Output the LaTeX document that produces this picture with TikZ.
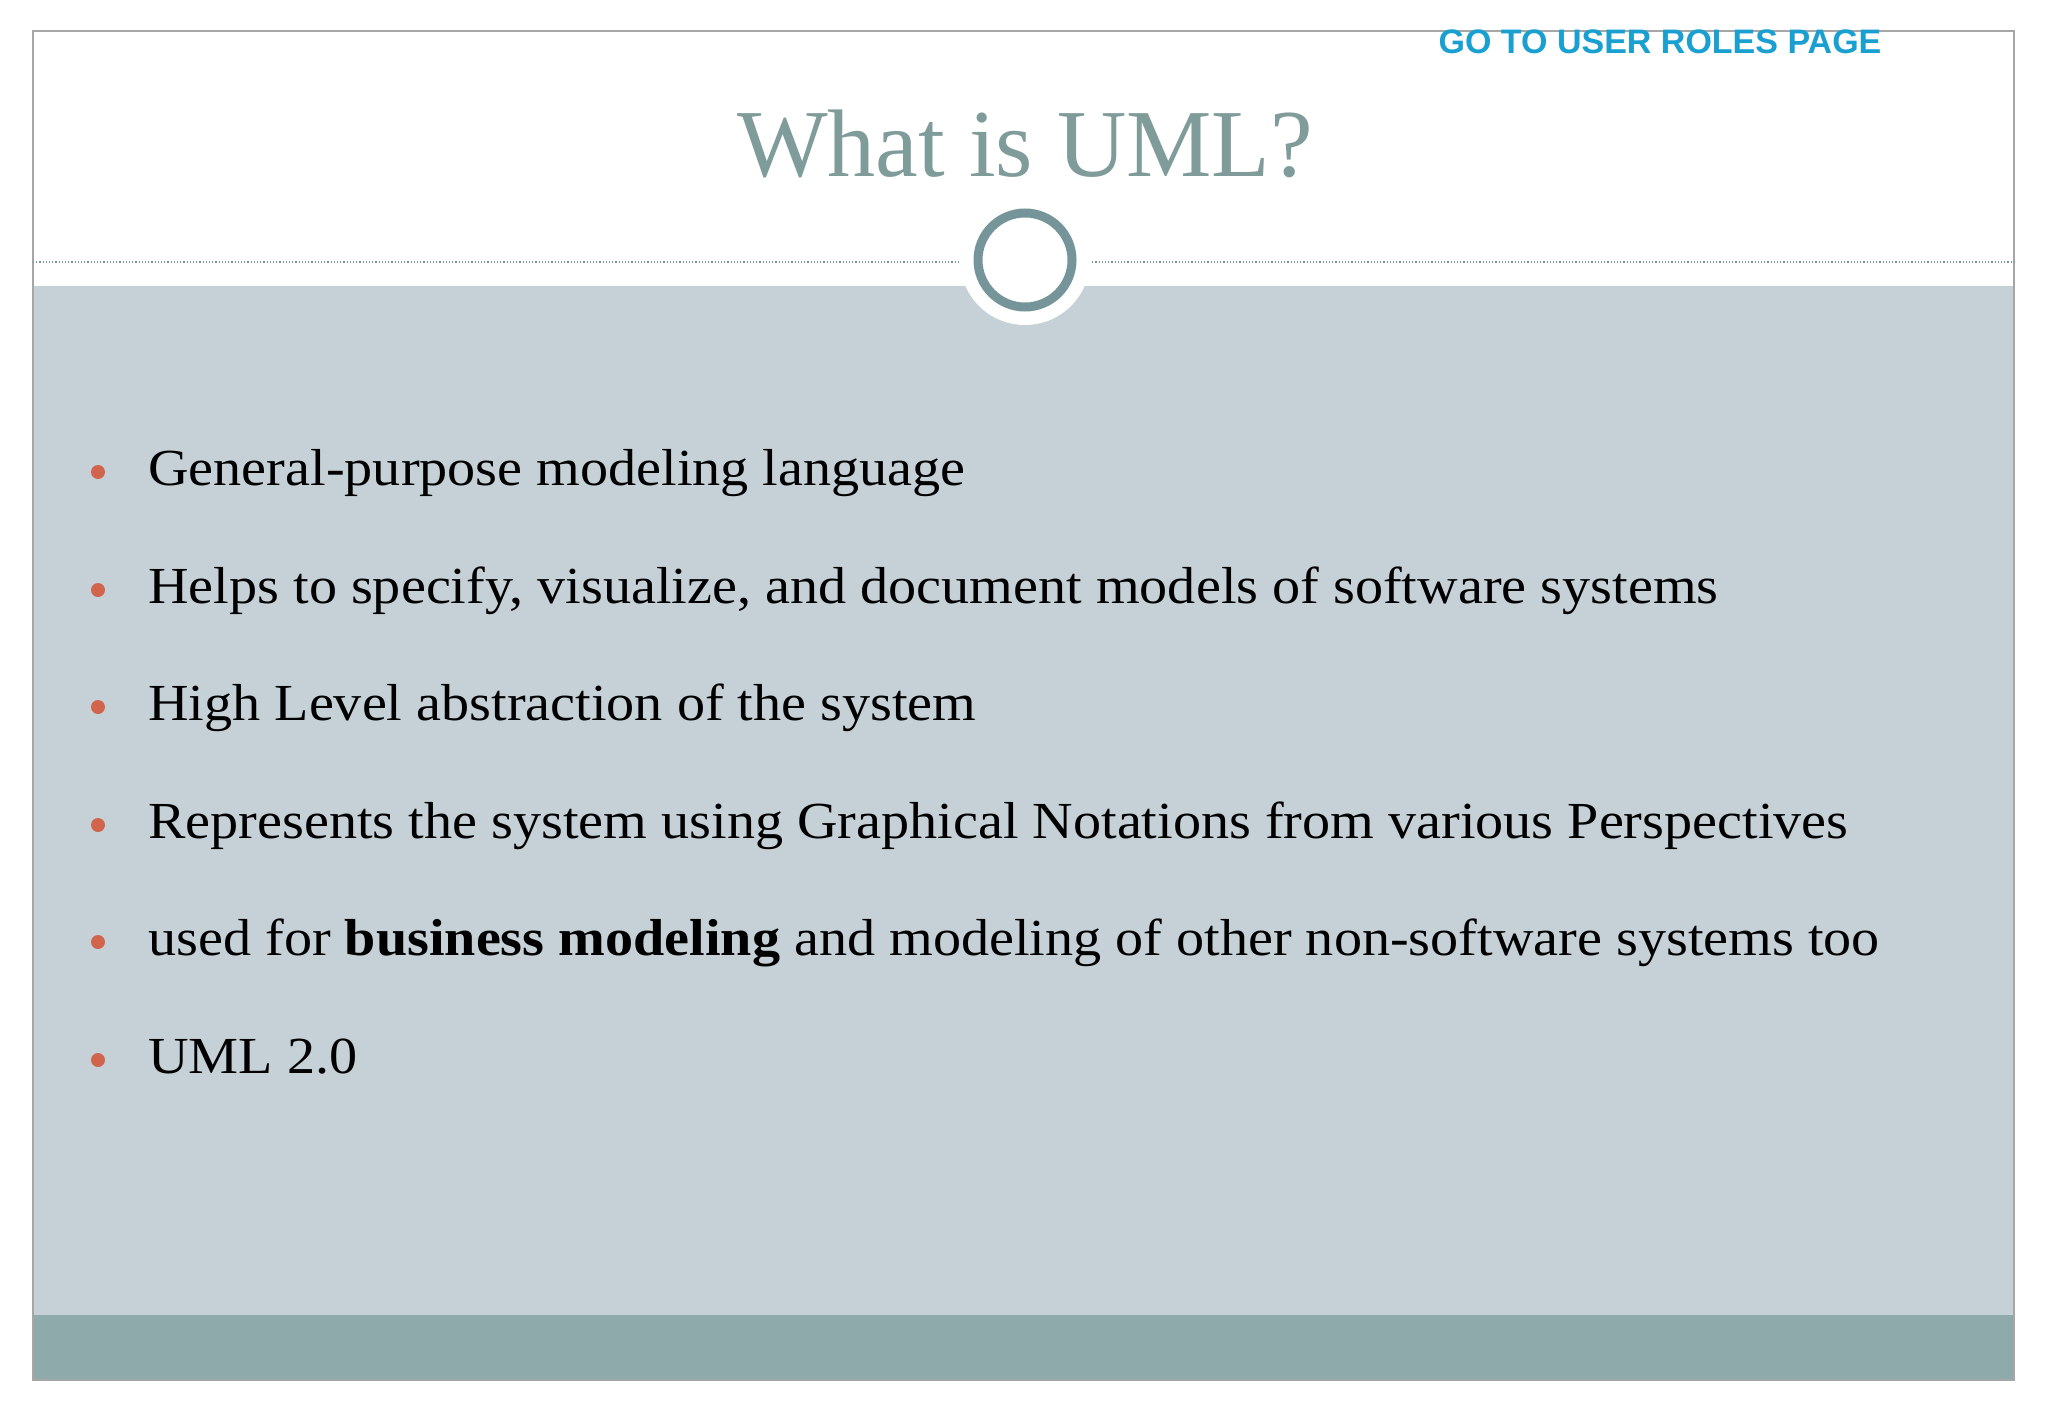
\documentclass[tikz,border=0pt]{standalone}
\usepackage{fontspec}
\setmainfont{Liberation Serif}
\setsansfont{Liberation Sans}
\newfontfamily\itemfont[FakeStretch=1.08]{Liberation Serif}
\definecolor{bodyc}{HTML}{C5D1D6}
\definecolor{footc}{HTML}{8FAAAB}
\definecolor{titlec}{HTML}{7F9C9A}
\definecolor{linkc}{HTML}{1AA0D0}
\definecolor{bulc}{HTML}{D0644C}
\definecolor{ringc}{HTML}{76959A}
\begin{document}
\begin{tikzpicture}[x=0.5pt,y=-0.5pt,
  bul/.style={circle,fill=bulc,inner sep=0pt,minimum size=7pt},
  item/.style={anchor=base west,font=\itemfont\fontsize{26}{30}\selectfont,inner sep=0pt}]
\useasboundingbox (0,0) rectangle (2048,1412);
\fill[white] (0,0) rectangle (2048,1412);
\fill[bodyc] (33,286) rectangle (2014,1315);
\fill[footc] (33,1315) rectangle (2014,1380);
\draw[gray!70,line width=0.8pt] (33,31) rectangle (2014,1380);
\draw[ringc,densely dotted,line width=0.6pt] (33,262) -- (2014,262);
\fill[white] (1025,260) circle (65);
\draw[ringc,line width=4.5pt,fill=white] (1025,260) circle (47);
\node[text=titlec,font=\fontsize{48}{56}\selectfont] (title) at (1025,144) {What is UML?};
\node[text=linkc,font=\sffamily\bfseries\fontsize{17}{20}\selectfont] (link) at (1660,42) {GO TO USER ROLES PAGE};
\foreach \y/\t [count=\i] in {
 485/{General-purpose modeling language},
 603/{Helps to specify, visualize, and document models of software systems},
 720/{High Level abstraction of the system},
 838/{Represents the system using Graphical Notations from various Perspectives},
 955/{used for \textbf{business modeling} and modeling of other non-software systems too},
 1073/{UML 2.0}}{
 \node[bul] (b\i) at (98,\y-13) {};
 \node[item] (t\i) at (148,\y) {\t};
}
\end{tikzpicture}
\end{document}
